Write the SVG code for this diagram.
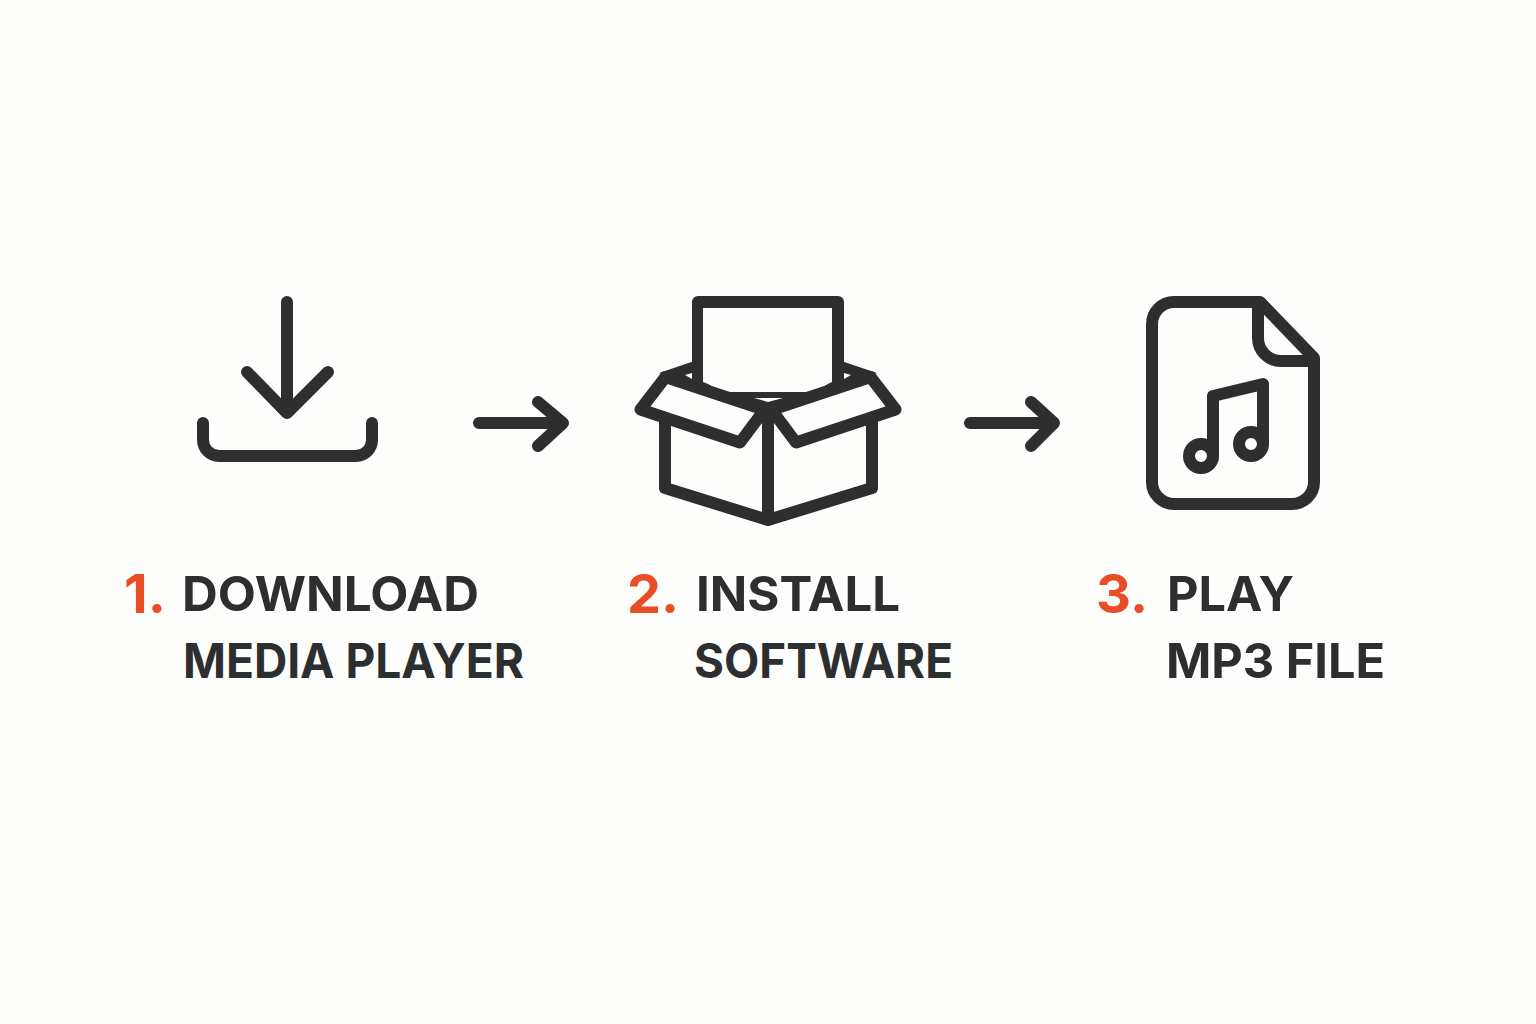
<svg xmlns="http://www.w3.org/2000/svg" width="1536" height="1024" viewBox="0 0 1536 1024">
<style>
.s{fill:none;stroke:#2d2e2f;stroke-width:12;stroke-linecap:round;stroke-linejoin:round}
.t{font-family:Inter,"Liberation Sans",sans-serif;font-weight:700;font-size:48px;fill:#2d2e2f}
.n{font-family:Inter,"Liberation Sans",sans-serif;font-weight:700;font-size:54px;fill:#e84e26}
.h{fill:#fdfdfb}
</style>
<rect width="1536" height="1024" fill="#fdfdfb"/>
<g id="connectors">
<path class="s" d="M479 423H562M538 402L563 423L538 446"/>
<path class="s" d="M970 423H1053M1031 402L1054 423L1031 446"/>
</g>
<g id="step-1">
<path class="s" d="M287 302V413M247 372L287 413L328 372"/>
<path class="s" d="M203 423V440A16 16 0 0 0 219 456H356A16 16 0 0 0 372 440V423"/>
<text class="n" x="124" y="613" textLength="42" lengthAdjust="spacingAndGlyphs">1.</text>
<text class="t" x="182" y="611" textLength="297" lengthAdjust="spacingAndGlyphs">DOWNLOAD</text>
<text class="t" x="183" y="678" textLength="341" lengthAdjust="spacingAndGlyphs">MEDIA PLAYER</text>
</g>
<g id="step-2">
<path d="M698 362L665 373L768 411L871 373L838 362V380L816 394H720L698 380Z" fill="#2d2e2f" stroke="#2d2e2f" stroke-width="4"/>
<path class="s" d="M698 380V302H838V380"/>
<path class="s" d="M665.500 377L640.500 409.500L740 442.500L768 405L796 442.500L895.500 409.500L870.500 377L768 411Z"/>
<path class="s" d="M665 421V488L768 520L872 488V421M768 411V520"/>
<path class="h" d="M703 382L720 388H815L832 382V308H703Z"/>
<path class="h" d="M754 398H783L768 402Z"/>
<path class="h" d="M685 375L692 373V379Z"/>
<path class="h" d="M844 373L851 375L844 379Z"/>
<text class="n" x="627" y="613" textLength="52" lengthAdjust="spacingAndGlyphs">2.</text>
<text class="t" x="696" y="611" textLength="204" lengthAdjust="spacingAndGlyphs">INSTALL</text>
<text class="t" x="694" y="678" textLength="259" lengthAdjust="spacingAndGlyphs">SOFTWARE</text>
</g>
<g id="step-3">
<path class="s" d="M1260 302H1174A22 22 0 0 0 1152 324V482A22 22 0 0 0 1174 504H1292A22 22 0 0 0 1314 482V358Z"/>
<path class="s" d="M1258 302V338A23 23 0 0 0 1281 361H1314"/>
<path class="s" d="M1213 456V396L1263 384V444"/>
<circle class="s" cx="1201" cy="456" r="12"/>
<circle class="s" cx="1251" cy="444" r="12"/>
<text class="n" x="1096" y="613" textLength="52" lengthAdjust="spacingAndGlyphs">3.</text>
<text class="t" x="1167" y="611" textLength="127" lengthAdjust="spacingAndGlyphs">PLAY</text>
<text class="t" x="1166" y="678" textLength="219" lengthAdjust="spacingAndGlyphs">MP3 FILE</text>
</g>
</svg>
